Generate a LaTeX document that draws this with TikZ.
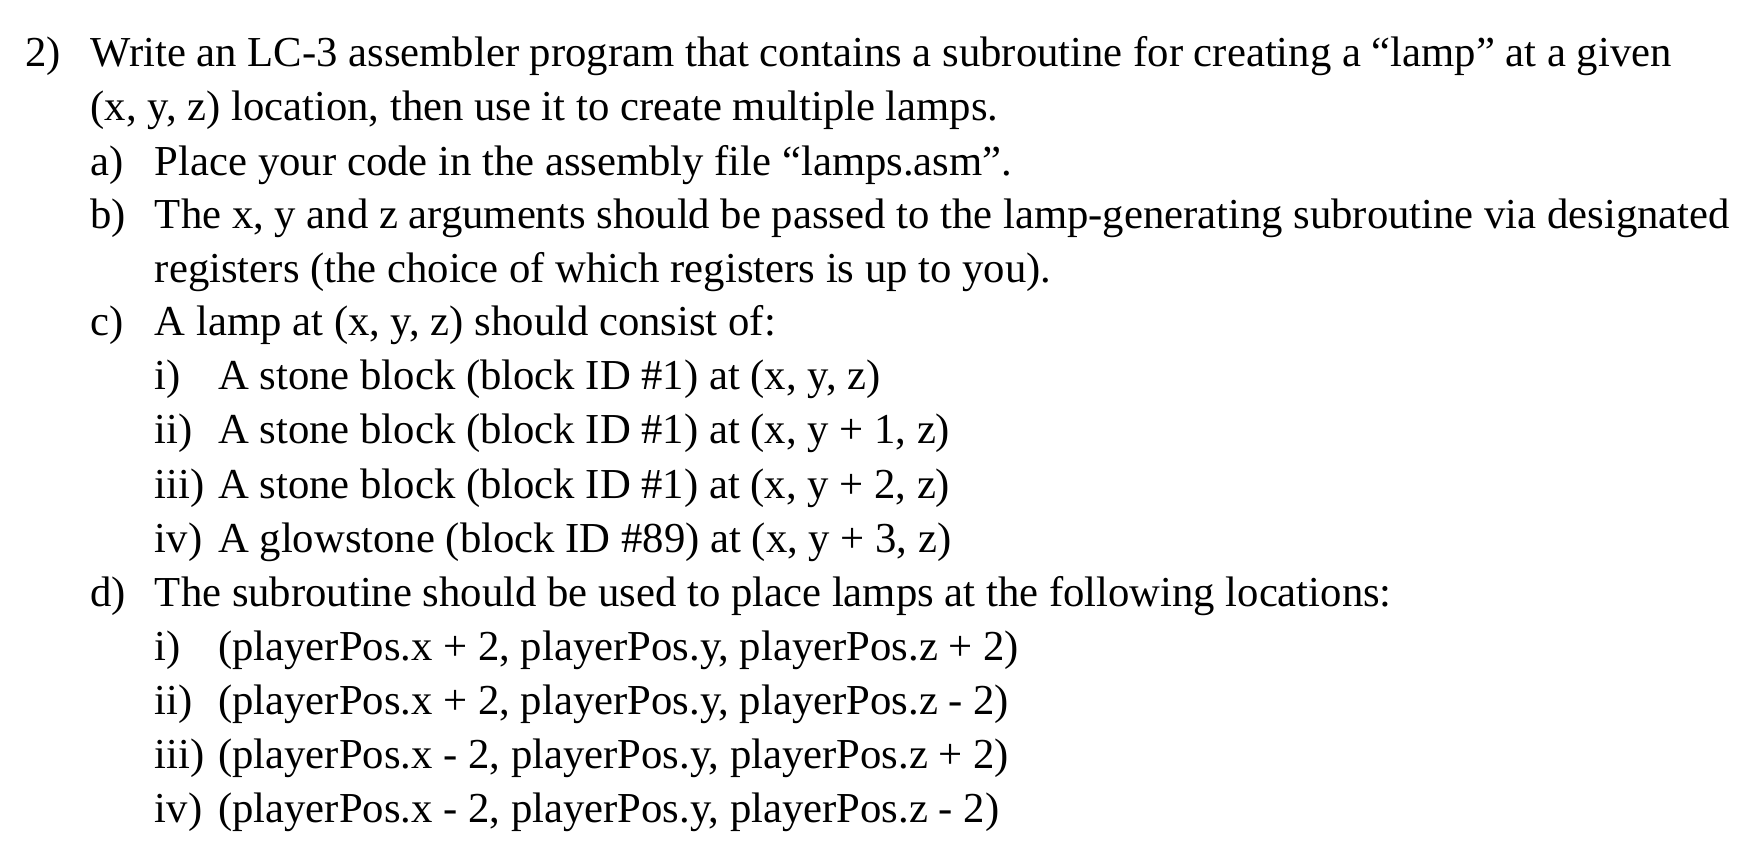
\documentclass[tikz,border=0pt]{standalone}
\usepackage{fontspec}
\setmainfont{Liberation Serif}
\begin{document}
\begin{tikzpicture}[x=1pt,y=-1pt,t/.style={anchor=base west,inner sep=0pt,font=\fontsize{37.8}{42}\selectfont}]
\useasboundingbox (0,0) rectangle (1560,747);
\node[t] (l1) at (22,59) {2)};
\node[t] (t1) at (80,59) {Write an LC-3 assembler program that contains a subroutine for creating a “lamp” at a given};
\node[t] (t2) at (80,107) {(x, y, z) location, then use it to create multiple lamps.};
\node[t] (la) at (80,155) {a)};
\node[t] (ta) at (137,155) {Place your code in the assembly file “lamps.asm”.};
\node[t] (lb) at (80,202) {b)};
\node[t] (tb) at (137,202) {The x, y and z arguments should be passed to the lamp-generating subroutine via designated};
\node[t] (tb2) at (137,250) {registers (the choice of which registers is up to you).};
\node[t] (lc) at (80,297) {c)};
\node[t] (tc) at (137,297) {A lamp at (x, y, z) should consist of:};
\node[t] (lc1) at (137,345) {i)};
\node[t] (tc1) at (193,345) {A stone block (block ID \#1) at (x, y, z)};
\node[t] (lc2) at (137,393) {ii)};
\node[t] (tc2) at (193,393) {A stone block (block ID \#1) at (x, y + 1, z)};
\node[t] (lc3) at (137,441) {iii)};
\node[t] (tc3) at (193,441) {A stone block (block ID \#1) at (x, y + 2, z)};
\node[t] (lc4) at (137,489) {iv)};
\node[t] (tc4) at (193,489) {A glowstone (block ID \#89) at (x, y + 3, z)};
\node[t] (ld) at (80,537) {d)};
\node[t] (td) at (137,537) {The subroutine should be used to place lamps at the following locations:};
\node[t] (ld1) at (137,585) {i)};
\node[t] (td1) at (193,585) {(playerPos.x + 2, playerPos.y, playerPos.z + 2)};
\node[t] (ld2) at (137,633) {ii)};
\node[t] (td2) at (193,633) {(playerPos.x + 2, playerPos.y, playerPos.z - 2)};
\node[t] (ld3) at (137,680) {iii)};
\node[t] (td3) at (193,680) {(playerPos.x - 2, playerPos.y, playerPos.z + 2)};
\node[t] (ld4) at (137,728) {iv)};
\node[t] (td4) at (193,728) {(playerPos.x - 2, playerPos.y, playerPos.z - 2)};
\end{tikzpicture}
\end{document}
